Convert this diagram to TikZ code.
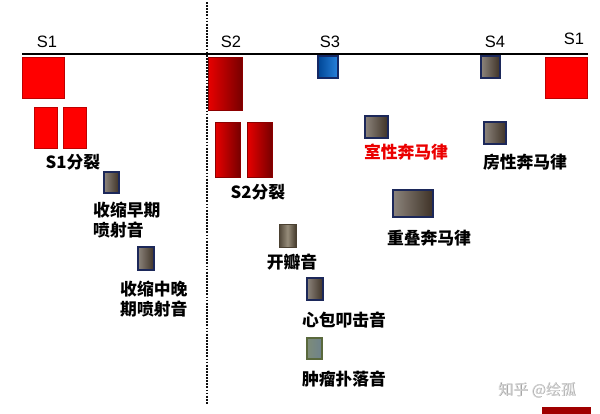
\documentclass[tikz,border=0pt]{standalone}
\usepackage{fontspec}
\setmainfont{Liberation Sans}
\newfontfamily\cjk{Noto Sans CJK SC}
\definecolor{redf}{RGB}{255,0,0}
\definecolor{redd}{RGB}{190,0,0}
\definecolor{dr1}{RGB}{232,0,0}
\definecolor{dr2}{RGB}{120,0,0}
\definecolor{dr3}{RGB}{140,0,0}
\definecolor{g1}{RGB}{140,132,124}
\definecolor{g2}{RGB}{62,50,38}
\definecolor{navyb}{RGB}{28,40,90}
\definecolor{b1}{RGB}{0,70,150}
\definecolor{b2}{RGB}{40,130,220}
\definecolor{b3}{RGB}{20,40,100}
\definecolor{o1}{RGB}{80,70,55}
\definecolor{o2}{RGB}{150,140,122}
\definecolor{o3}{RGB}{70,60,45}
\definecolor{o4}{RGB}{75,65,50}
\definecolor{t1}{RGB}{125,140,120}
\definecolor{t2}{RGB}{110,130,140}
\definecolor{t3}{RGB}{90,105,60}
\definecolor{dotc}{RGB}{15,15,15}
\definecolor{redtxt}{RGB}{235,0,0}
\definecolor{wm1}{RGB}{150,150,150}
\definecolor{wm2}{RGB}{215,215,215}
\definecolor{bottomred}{RGB}{160,0,0}
\begin{document}
\begin{tikzpicture}[x=1pt,y=-1pt,
  lab/.style={font=\cjk\bfseries\fontsize{16.8}{20}\selectfont, inner sep=0pt, text=black},
  slab/.style={font=\fontsize{16.5}{20}\selectfont, inner sep=0pt},
  redbox/.style={fill=redf, draw=redd, line width=0.8pt},
  dredbox/.style={left color=dr1, right color=dr2, draw=dr3, line width=0.8pt},
  gbox/.style={left color=g1, right color=g2, draw=navyb, line width=1.3pt},
  bbox/.style={left color=b1, right color=b2, draw=b3, line width=1.2pt},
  obox/.style={left color=o1, right color=o3, middle color=o2, draw=o4, line width=0.8pt},
  tbox/.style={left color=t1, right color=t2, draw=t3, line width=1.3pt}
]
\useasboundingbox (0,0) rectangle (600,413);

% axis and dotted divider
\draw[line width=2pt] (22,54) -- (588,54);
\draw[line width=2.4pt, dash pattern=on 1.8pt off 1.3pt, color=dotc] (207,2) -- (207,404);

% top labels
\node[slab] (s1a) at (47,42) {S1};
\node[slab] (s2) at (231,42) {S2};
\node[slab] (s3) at (330,42) {S3};
\node[slab] (s4) at (495,42) {S4};
\node[slab] (s1b) at (574,39) {S1};

% S1
\draw[redbox] (22,57) rectangle (64,98);
\draw[redbox] (34,107) rectangle (57,148);
\draw[redbox] (63,107) rectangle (86,148);
\node[lab] (l1) at (73,162) {S1分裂};

\draw[gbox] (104,172) rectangle (119,193);
\node[lab, align=left, anchor=west] (l2) at (93,220) {收缩早期\\喷射音};

\draw[gbox] (138,247) rectangle (154,270);
\node[lab, align=left, anchor=west] (l3) at (120,299) {收缩中晚\\期喷射音};

% S2
\draw[dredbox] (208,57) rectangle (242,110);
\draw[dredbox] (215,122) rectangle (240,177);
\draw[dredbox] (247,122) rectangle (272,177);
\node[lab] (l4) at (258,192) {S2分裂};

\draw[obox] (279,224) rectangle (296,247);
\node[lab] (l5) at (292,262) {开瓣音};

\draw[gbox] (307,278) rectangle (323,300);
\node[lab] (l6) at (344,320) {心包叩击音};

\draw[tbox] (307,338) rectangle (322,359);
\node[lab] (l7) at (344,379) {肿瘤扑落音};

% S3 / S4
\draw[bbox] (318,56) rectangle (338,78);
\draw[gbox] (481,56) rectangle (500,78);
\draw[redbox] (545,57) rectangle (587,98);

\draw[gbox] (365,116) rectangle (388,138);
\node[lab, text=redtxt] (l8) at (406,152) {室性奔马律};

\draw[gbox] (484,122) rectangle (506,144);
\node[lab] (l9) at (525,162) {房性奔马律};

\draw[gbox] (393,190) rectangle (433,217);
\node[lab] (l10) at (429,238) {重叠奔马律};

% watermark
\node[font=\cjk\fontsize{15}{18}\selectfont, text=wm1, inner sep=0pt] (wmshadow) at (537.6,390.6) {知乎 @绘孤};
\node[font=\cjk\fontsize{15}{18}\selectfont, text=wm2, inner sep=0pt] (wm) at (537,390) {知乎 @绘孤};

\fill[bottomred] (542,407) rectangle (591,414);
\end{tikzpicture}
\end{document}
